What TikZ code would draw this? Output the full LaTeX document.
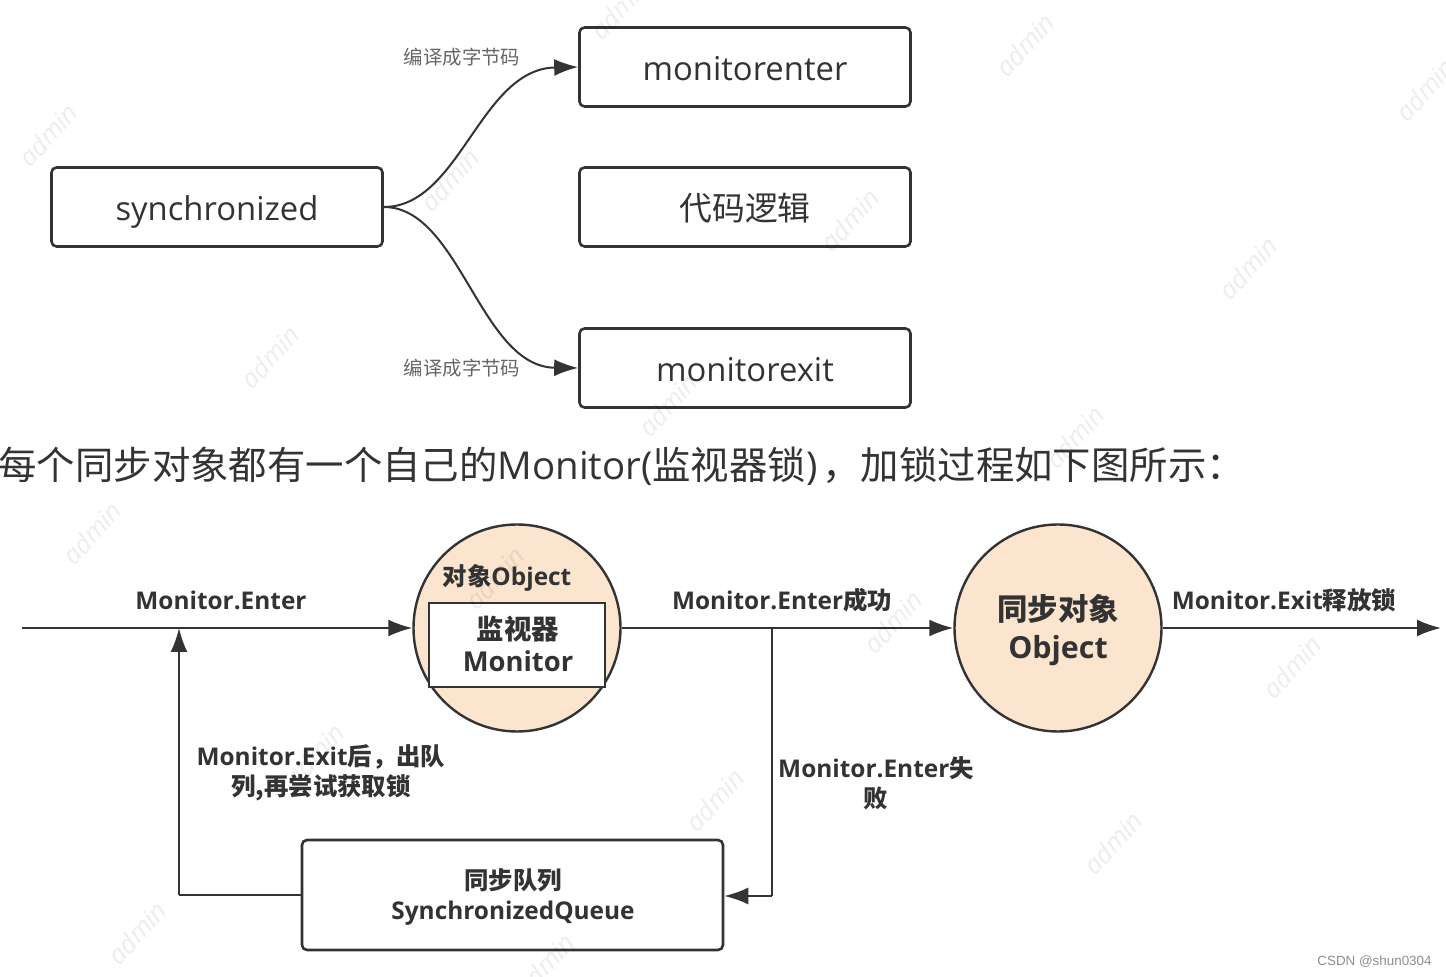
\documentclass[tikz,border=0pt]{standalone}
\usepackage{fontspec}
\setmainfont{Open Sans}
\newfontfamily\cjk{Noto Sans CJK SC}
\usetikzlibrary{positioning,arrows.meta}
\definecolor{inkgrey}{HTML}{333333}
\definecolor{peach}{HTML}{FCE5CF}
\tikzset{
  flowbox/.style={draw=inkgrey, line width=1.3pt, rounded corners=2.5pt, minimum width=165.5pt, minimum height=39.5pt, inner sep=0pt, text=inkgrey, text height=15pt, text depth=1pt, font=\fontsize{16.4}{20}\selectfont},
  round/.style={circle, draw=inkgrey, line width=1.2pt, fill=peach, minimum size=103.5pt, inner sep=0pt},
  flow/.style={draw=inkgrey, line width=1pt, -{Latex[length=12pt,width=8.5pt]}},
  plainline/.style={draw=inkgrey, line width=1pt},
  tag/.style={text=inkgrey, font=\bfseries\fontsize{12.2}{15.2}\selectfont, align=center, inner sep=0pt},
  small/.style={text=black!60, font=\fontsize{9.7}{12}\selectfont, inner sep=0pt},
  mark text/.style={text=black, opacity=0.07, rotate=48, font=\itshape\fontsize{13}{15}\selectfont, inner sep=0pt},
}
\begin{document}
\begin{tikzpicture}[x=0.5pt,y=-0.5pt]
  \useasboundingbox (0,0) rectangle (1446,977);

  % upper part
  \node[flowbox] (sync) at (217,207) {synchronized};
  \node[flowbox] (enter) at (745,67) {monitorenter};
  \node[flowbox] (logic) at (745,207) {\cjk 代码逻辑};
  \node[flowbox] (exit) at (745,368) {monitorexit};
  \node[small] (tagtop) at (462,57) {\cjk 编译成字节码};
  \node[small] (tagbottom) at (462,368) {\cjk 编译成字节码};

  \draw[flow] (sync.east) .. controls (460,207) and (480,69) .. (enter.west);
  \draw[flow] (sync.east) .. controls (460,207) and (480,367) .. (exit.west);

  \node[anchor=west, inner sep=0pt, text=inkgrey, font=\fontsize{19.2}{24}\selectfont] (line) at (-2,466) {{\cjk 每个同步对象都有一个自己的}Monitor({\cjk 监视器锁})\hspace{2.5pt}{\cjk ，加锁过程如下图所示：}};

  % lower part
  \node[round] (object) at (517,628) {};
  \node[draw=inkgrey, line width=1.3pt, fill=white, minimum width=88pt, minimum height=42pt, inner sep=0pt] (monitor) at (517,645) {};
  \node[tag, font=\bfseries\fontsize{13.7}{16.4}\selectfont] (monitortext) at (518,644) {{\cjk 监视器}\\Monitor};
  \node[tag] (objlabel) at (507,578) {{\cjk 对象}Object};
  \node[round] (sync obj) at (1058,628) {};
  \node[tag, font=\bfseries\fontsize{15.2}{19.4}\selectfont] (synctext) at (1058,630) {{\cjk 同步对象}\\Object};
  \node[draw=inkgrey, line width=1.3pt, rounded corners=2.5pt, minimum width=210.5pt, minimum height=55pt, inner sep=0pt] (queue) at (512.5,895) {};
  \node[tag] (queuetext) at (513,897) {{\cjk 同步队列}\\SynchronizedQueue};

  \coordinate (start) at (22,628);
  \coordinate (finish) at (1441,628);
  \coordinate (branch) at (772,628);
  \coordinate (corner) at (772,896);
  \coordinate (back) at (179,895);
  \coordinate (backup) at (179,628);

  \draw[flow] (start) -- (object.west);
  \draw[flow] (object.east) -- (sync obj.west);
  \draw[flow] (sync obj.east) -- (finish);
  \draw[plainline] (branch) -- (corner);
  \draw[flow] (corner) -- (queue.east |- corner);
  \draw[plainline] (queue.west) -- (back);
  \draw[flow] (back) -- (backup);

  \node[tag] (enterlabel) at (221,600) {Monitor.Enter};
  \node[tag] (oklabel) at (782,600) {Monitor.Enter{\cjk 成功}};
  \node[tag] (exitlabel) at (1284,600) {Monitor.Exit{\cjk 释放锁}};
  \node[tag] (retry) at (321,773) {Monitor.Exit{\cjk 后，出队}\\{\cjk 列,再尝试获取锁}};
  \node[tag] (fail) at (876,783) {Monitor.Enter{\cjk 失}\\{\cjk 败}};

  \node[text=black!45, font=\fontsize{6.7}{9}\selectfont, anchor=east, inner sep=0pt] (credit) at (1432,962) {\setmainfont{Liberation Sans}\normalfont CSDN @shun0304};

  % watermark
  \foreach \wx/\wy in {48/135,1025/45,620/8,1425/90,450/180,850/220,1248/268,270/357,668/405,1075/437,92/533,495/578,893/622,1292/667,315/755,715/800,1113/843,137/933,545/965}
    \node[mark text] at (\wx,\wy) {admin};
\end{tikzpicture}
\end{document}
